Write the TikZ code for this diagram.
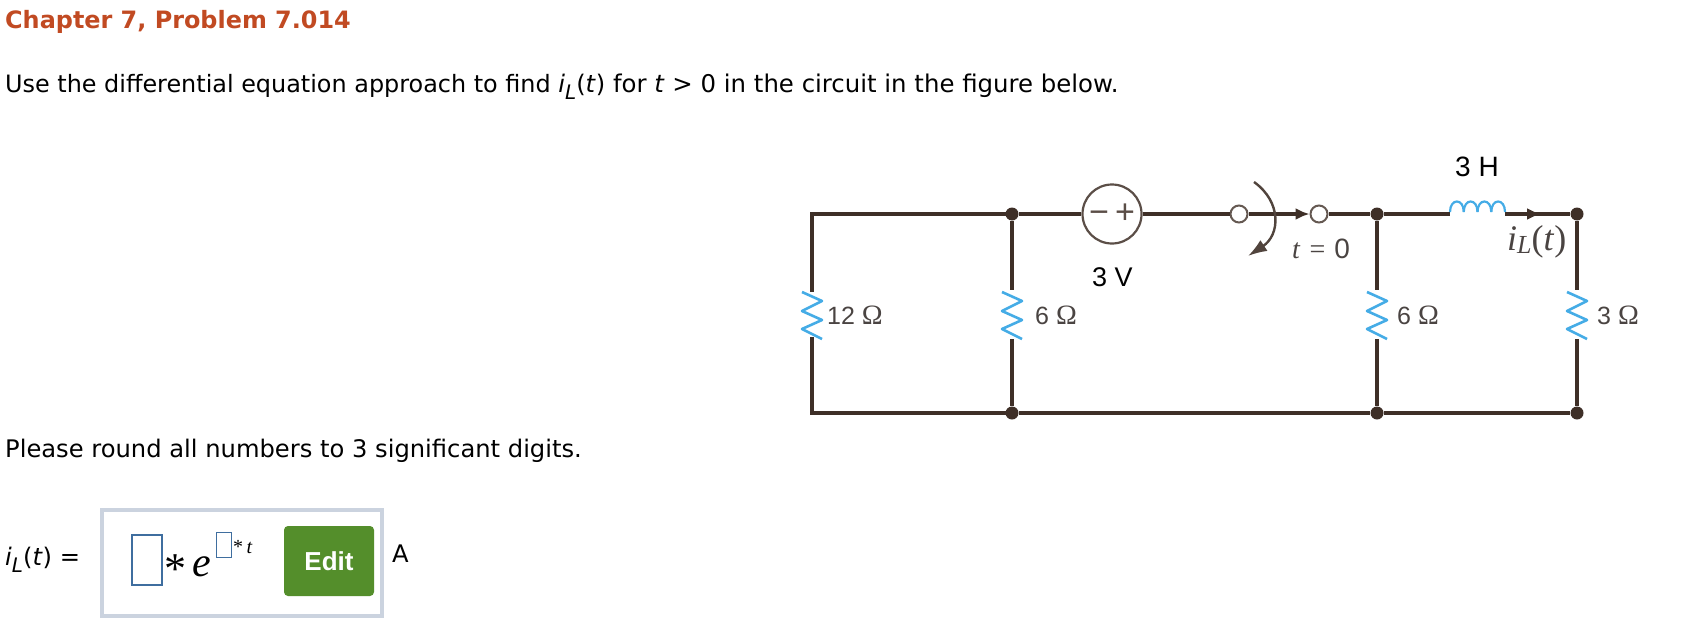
\documentclass[tikz,border=0pt]{standalone}
\usepackage{fontspec}
\setmainfont{DejaVu Sans}
\newfontfamily\circfont{Liberation Sans}
\newfontfamily\timesfont{Liberation Serif}
\usetikzlibrary{arrows.meta, %for arrows on wires and switch
                positioning}
\definecolor{wirecol}{HTML}{3E2F27}
\definecolor{bluecol}{HTML}{45ACE6}
\definecolor{titlecol}{HTML}{C14A22}
\definecolor{framecol}{HTML}{CBD3DF}
\definecolor{slotcol}{HTML}{3F6E9F}
\definecolor{editcol}{HTML}{548E2B}
\definecolor{labelcol}{HTML}{4A4442}
\newcommand{\ohms}{{\timesfont\fontsize{28}{28}\selectfont\symbol{"03A9}}}
\newcommand{\iLt}{\textit{i}\raisebox{-.6ex}{\fontsize{20}{20}\selectfont\textit{L}}(\textit{t})}
\begin{document}
\begin{tikzpicture}[x=1pt, y=-1pt,
                    wire/.style={line width=3.4pt, wirecol},
                    res/.style={line width=2.6pt, bluecol, line join=round},
                    ind/.style={line width=2.2pt, bluecol},
                    junction/.style={circle, fill=wirecol, inner sep=0, minimum size=13pt},
                    swnode/.style={draw=wirecol!80, line width=2pt, circle, fill=white, inner sep=0, minimum size=17pt},
                    source/.style={draw=wirecol!85, line width=2.2pt, circle, fill=white, inner sep=0, minimum size=59pt,
                                   font=\circfont\fontsize{34}{34}\selectfont, text=wirecol!85},
                    txt/.style={anchor=base west, inner sep=0, font=\fontsize{24.2}{26}\selectfont, text=black},
                    lbl/.style={anchor=base west, inner sep=0, font=\circfont\fontsize{25}{26}\selectfont, text=labelcol},
                    slot/.style={draw=slotcol, fill=white, inner sep=0}
                    ]
    \useasboundingbox (0,0) rectangle (1688,632);

    % text of the problem
    \node[txt, font=\bfseries\fontsize{23.9}{26}\selectfont, text=titlecol] (title) at (5,28) {Chapter 7, Problem 7.014};
    \node[txt] (question) at (5,92) {{\fontsize{23.9}{26}\selectfont Use the differential equation approach to find} \iLt{} {\fontsize{24.4}{26}\selectfont for \textit{t} > 0 in the circuit in the figure below.}};
    \node[txt] (round) at (5,457) {Please round all numbers to 3 significant digits.};

    % answer line
    \node[txt] (answer) at (5,565) {\iLt{} =};
    \node[draw=framecol, line width=4pt, fill=white, minimum width=280pt, minimum height=106pt, inner sep=0] (frame) at (242,563) {};
    \node[slot, line width=2pt, minimum width=30pt, minimum height=50pt] (slotA) at (146.5,560) {};
    \node[anchor=base west, inner sep=0, font=\timesfont\fontsize{44}{44}\selectfont] (star) at (164,583) {*};
    \node[anchor=base west, inner sep=0, font=\timesfont\itshape\fontsize{42}{42}\selectfont] (euler) at (192,576) {e};
    \node[slot, line width=1.2pt, minimum width=15pt, minimum height=25pt] (slotB) at (224,545) {};
    \node[anchor=base west, inner sep=0, font=\timesfont\fontsize{20}{20}\selectfont] (expo) at (233,553) {*\,\textit{t}};
    \node[fill=editcol, rounded corners=4pt, minimum width=90pt, minimum height=70pt, inner sep=0,
          text=white, font=\circfont\bfseries\fontsize{26}{26}\selectfont] (edit) at (329,561) {Edit};
    \node[txt] (unit) at (392,562) {A};

    % corners and element ends
    \coordinate (TL) at (812,214);
    \coordinate (BL) at (812,413);
    \coordinate (R1top) at (812,290);
    \coordinate (R1bot) at (812,339);
    \coordinate (R2top) at (1012,290);
    \coordinate (R2bot) at (1012,339);
    \coordinate (R3top) at (1377,290);
    \coordinate (R3bot) at (1377,339);
    \coordinate (R4top) at (1577,290);
    \coordinate (R4bot) at (1577,339);
    \coordinate (Lleft) at (1450,214);
    \coordinate (Lright) at (1505,214);
    \coordinate (Ltip) at (1541,214);
    \coordinate (SwA) at (1254,182);
    \coordinate (SwB) at (1282,202);
    \coordinate (SwC) at (1280,235);
    \coordinate (SwD) at (1248,256);

    % junction nodes
    \node[junction] at (1012,214) (J1){};
    \node[junction] at (1377,214) (J2){};
    \node[junction] at (1577,214) (J3){};
    \node[junction] at (1012,413) (J4){};
    \node[junction] at (1377,413) (J5){};
    \node[junction] at (1577,413) (J6){};

    % source and switch
    \node[source] at (1112,214) (Vs){−\hspace{6pt}+};
    \node[swnode] at (1239,214) (SwL){};
    \node[swnode] at (1319,214) (SwR){};

    % wires
    \draw[wire, line cap=rect] (R1top) -- (TL) -- (J1);
    \draw[wire, line cap=rect] (R1bot) -- (BL) -- (J4);
    \draw[wire] (J1) -- (Vs);
    \draw[wire] (Vs) -- (SwL);
    \draw[wire, -{Latex[length=14pt,width=12pt]}] (SwL) -- (SwR);
    \draw[wire] (SwR) -- (J2);
    \draw[wire] (J2) -- (Lleft);
    \draw[wire] (Lright) -- (J3);
    \draw[wire, -{Latex[length=14pt,width=12pt]}] (Lright) -- (Ltip);
    \draw[wire] (J4) -- (J5);
    \draw[wire] (J5) -- (J6);
    \draw[wire] (J1) -- (R2top);
    \draw[wire] (R2bot) -- (J4);
    \draw[wire] (J2) -- (R3top);
    \draw[wire] (R3bot) -- (J5);
    \draw[wire] (J3) -- (R4top);
    \draw[wire] (R4bot) -- (J6);

    % resistors
    \foreach \r in {R1top,R2top,R3top,R4top}
        \draw[res] (\r) ++(-10,2) -- ++(20,9) -- ++(-20,10) -- ++(20,9) -- ++(-20,9) -- ++(20,10);

    % inductor
    \foreach \i in {0,1,2,3}
        \draw[ind] (1450+13.75*\i,212) .. controls (1450+13.75*\i,198) and (1463.75+13.75*\i,198) .. (1463.75+13.75*\i,212);

    % switch arrow
    \draw[line width=2.4pt, wirecol!90, -{Latex[length=19pt,width=13pt]}] (SwA) .. controls (SwB) and (SwC) .. (SwD);

    % element labels
    \node[lbl] (lab12) at (827,324) {12 \ohms};
    \node[lbl] (lab6a) at (1035,324) {6 \ohms};
    \node[lbl] (lab6b) at (1397,324) {6 \ohms};
    \node[lbl] (lab3) at (1597,324) {3 \ohms};
    \node[lbl, font=\circfont\fontsize{27}{27}\selectfont, text=black] (labV) at (1092,286) {3 V};
    \node[lbl, font=\circfont\fontsize{28}{28}\selectfont, text=black] (labH) at (1455,176) {3 H};
    \node[lbl, font=\timesfont\fontsize{28}{28}\selectfont] (labt) at (1292,258) {\textit{t}\hspace{9pt}=\hspace{9pt}{\circfont 0}};
    \node[lbl, font=\timesfont\fontsize{36}{36}\selectfont] (labi) at (1507,250) {\textit{i}\raisebox{-.2ex}{\fontsize{26}{26}\selectfont\textit{L}}(\textit{t})};
\end{tikzpicture}
\end{document}
